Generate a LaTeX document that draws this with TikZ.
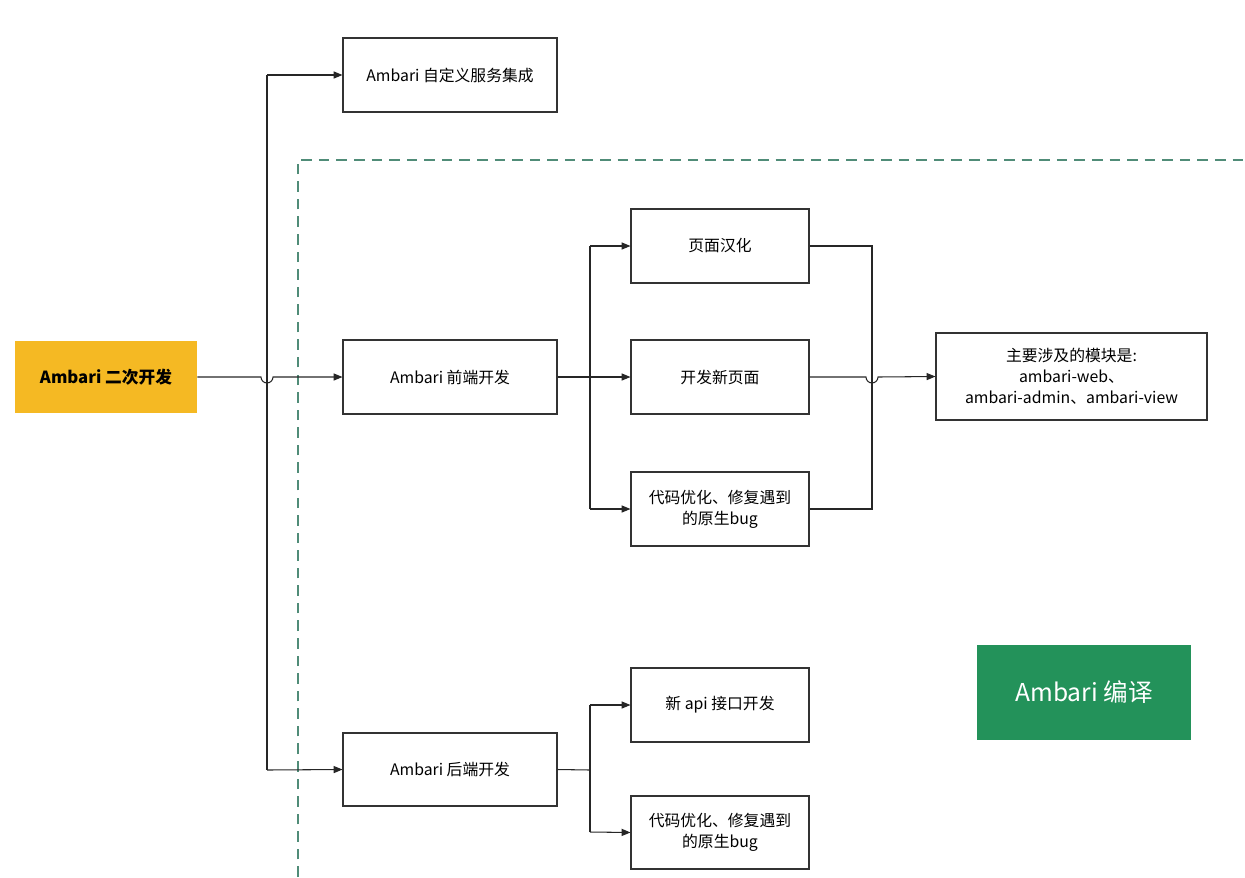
\documentclass[tikz,border=0pt]{standalone}
\usepackage{fontspec}
\setmainfont{Noto Sans CJK SC}
\usetikzlibrary{arrows.meta}
\begin{document}
\begin{tikzpicture}[x=0.02cm,y=-0.02cm,
  box/.style={draw=black!80,fill=white,line width=0.6pt,inner sep=2pt,align=center,font=\fontsize{9}{12}\selectfont},
  con/.style={line width=0.6pt,black!85},
  arr/.style={con,-{Triangle[length=5pt,width=4pt]}}]
\useasboundingbox (0,0) rectangle (1245,877);
\draw[dashed,draw={rgb,255:red,80;green,140;blue,120},line width=0.6pt,dash pattern=on 6pt off 4pt] (298,877) -- (298,160) -- (1245,160);
\newcommand\bx[6]{\node[box,minimum width={(#4-#2)*0.02cm},minimum height={(#5-#3)*0.02cm}] (#1) at ({(#2+#4)/2},{(#3+#5)/2}) {#6};}
\node[fill={rgb,255:red,245;green,185;blue,35},minimum width=3.64cm,minimum height=1.44cm,font=\fontsize{9.5}{12}\selectfont\bfseries] (root) at (106,377) {Ambari 二次开发};
\bx{a1}{343}{38}{557}{112}{Ambari 自定义服务集成}
\bx{fe}{343}{340}{557}{414}{Ambari 前端开发}
\bx{be}{343}{733}{557}{806}{Ambari 后端开发}
\bx{p1}{631}{209}{809}{283}{页面汉化}
\bx{p2}{631}{340}{809}{414}{开发新页面}
\bx{p3}{631}{472}{809}{546}{代码优化、修复遇到\\的原生bug}
\bx{md}{936}{333}{1207}{420}{主要涉及的模块是:\\ambari-web、\\ambari-admin、ambari-view}
\bx{b1}{631}{668}{809}{742}{新 api 接口开发}
\bx{b2}{631}{796}{809}{869}{代码优化、修复遇到\\的原生bug}
\node[fill={rgb,255:red,35;green,146;blue,90},text=white,minimum width=4.28cm,minimum height=1.9cm,font=\fontsize{14}{16}\selectfont] (gr) at (1084,692) {Ambari 编译};
% trunk
\coordinate (t1) at (267,75); \coordinate (t2) at (267,770);
\draw[con] (t1) -- (t2);
\draw[arr] (t1) -- (a1.west);
\draw[arr] (t2) -- (be.west);
\draw[arr] (root.east) -- (261,377) arc (180:0:6) -- (fe.west);
% front branches
\coordinate (f0) at (590,377); \coordinate (fA) at (590,246); \coordinate (fC) at (590,509);
\draw[con] (fe.east) -- (f0); \draw[con] (fA) -- (fC);
\draw[arr] (fA) -- (p1.west); \draw[arr] (f0) -- (p2.west); \draw[arr] (fC) -- (p3.west);
\coordinate (mA) at (872,246); \coordinate (mC) at (872,509);
\draw[con] (p1.east) -- (mA) -- (mC) -- (p3.east);
\draw[arr] (p2.east) -- (866,377) arc (180:0:6) -- (md.west);
% back branches
\coordinate (g0) at (590,770); \coordinate (gA) at (590,705); \coordinate (gC) at (590,832);
\draw[con] (be.east) -- (g0); \draw[con] (gA) -- (gC);
\draw[arr] (gA) -- (b1.west); \draw[arr] (gC) -- (b2.west);
\end{tikzpicture}
\end{document}
